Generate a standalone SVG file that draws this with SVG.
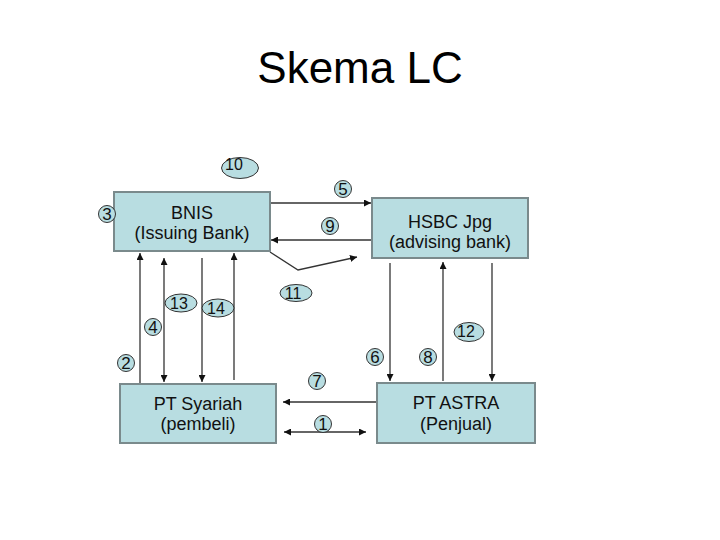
<svg xmlns="http://www.w3.org/2000/svg" width="720" height="540" viewBox="0 0 720 540">
<defs>
<style>
.box{fill:#b8dde1;stroke:#7a8a8c;stroke-width:2}
.t{font-family:"Liberation Sans",Arial,sans-serif;font-size:18px;fill:#111;text-anchor:middle}
.n{font-family:"Liberation Sans",Arial,sans-serif;font-size:17px;fill:#111;text-anchor:middle}
.m{font-family:"Liberation Sans",Arial,sans-serif;font-size:16px;fill:#111;text-anchor:middle}
.lbl{fill:#b8dde1;stroke:#333;stroke-width:1}
.c{fill:none;stroke:#333;stroke-width:1.3}
</style>
<marker id="ah" viewBox="0 0 10 10" refX="10" refY="5" markerWidth="7" markerHeight="7" markerUnits="userSpaceOnUse" orient="auto-start-reverse">
<path d="M0,0 L10,5 L0,10 z" fill="#111"/>
</marker>
</defs>
<rect width="720" height="540" fill="#fff"/>
<text x="360" y="83" font-family="'Liberation Sans',Arial,sans-serif" font-size="44" fill="#000" text-anchor="middle">Skema LC</text>

<g id="connectors">
<line class="c" x1="271" y1="203" x2="371" y2="203" marker-end="url(#ah)"/>
<line class="c" x1="371" y1="240" x2="271" y2="240" marker-end="url(#ah)"/>
<polyline class="c" points="270,252 298,270 357,257" marker-end="url(#ah)"/>
<line class="c" x1="140" y1="383" x2="140" y2="253" marker-end="url(#ah)"/>
<line class="c" x1="164" y1="258" x2="164" y2="382" marker-start="url(#ah)" marker-end="url(#ah)"/>
<line class="c" x1="202" y1="258" x2="202" y2="382" marker-end="url(#ah)"/>
<line class="c" x1="234" y1="380" x2="234" y2="253" marker-end="url(#ah)"/>
<line class="c" x1="390" y1="263" x2="390" y2="381" marker-end="url(#ah)"/>
<line class="c" x1="443" y1="381" x2="443" y2="262" marker-end="url(#ah)"/>
<line class="c" x1="492" y1="263" x2="492" y2="381" marker-end="url(#ah)"/>
<line class="c" x1="377" y1="402" x2="283" y2="402" marker-end="url(#ah)"/>
<line class="c" x1="284" y1="432" x2="366" y2="432" marker-start="url(#ah)" marker-end="url(#ah)"/>
</g>

<g id="bnis">
<rect class="box" x="114" y="192" width="156" height="59"/>
<text class="t" x="192" y="219">BNIS</text>
<text class="t" x="192" y="239">(Issuing Bank)</text>
</g>
<g id="hsbc">
<rect class="box" x="372" y="198" width="156" height="60"/>
<text class="t" x="450" y="228">HSBC Jpg</text>
<text class="t" x="450" y="248">(advising bank)</text>
</g>
<g id="syariah">
<rect class="box" x="120" y="384" width="156" height="59"/>
<text class="t" x="198" y="410">PT Syariah</text>
<text class="t" x="198" y="430">(pembeli)</text>
</g>
<g id="astra">
<rect class="box" x="377" y="383" width="158" height="60"/>
<text class="t" x="456" y="409">PT ASTRA</text>
<text class="t" x="456" y="430">(Penjual)</text>
</g>

<g id="labels">
<ellipse class="lbl" cx="240" cy="168" rx="18.5" ry="10.5"/><text class="m" x="234" y="170">10</text>
<circle class="lbl" cx="343" cy="189" r="8.5"/><text class="n" x="343" y="195">5</text>
<circle class="lbl" cx="330" cy="226" r="8.5"/><text class="n" x="330" y="232">9</text>
<circle class="lbl" cx="107" cy="214" r="8.5"/><text class="n" x="107" y="220">3</text>
<circle class="lbl" cx="153" cy="327" r="8.5"/><text class="n" x="153" y="333">4</text>
<circle class="lbl" cx="126" cy="363" r="8.5"/><text class="n" x="126" y="369">2</text>
<ellipse class="lbl" cx="181" cy="303" rx="16" ry="9"/><text class="m" x="179" y="308.5">13</text>
<ellipse class="lbl" cx="218" cy="308" rx="16" ry="9"/><text class="m" x="216" y="313.5">14</text>
<ellipse class="lbl" cx="296" cy="293" rx="16" ry="8.5"/><text class="m" x="293" y="298.5">11</text>
<ellipse class="lbl" cx="469" cy="332" rx="15" ry="9.5"/><text class="m" x="466" y="337">12</text>
<circle class="lbl" cx="375" cy="357" r="8.5"/><text class="n" x="375" y="363">6</text>
<circle class="lbl" cx="428" cy="357" r="8.5"/><text class="n" x="428" y="363">8</text>
<circle class="lbl" cx="317" cy="381" r="8.5"/><text class="n" x="317" y="387">7</text>
<circle class="lbl" cx="323" cy="424" r="8.5"/><text class="n" x="323" y="430">1</text>
</g>
</svg>
